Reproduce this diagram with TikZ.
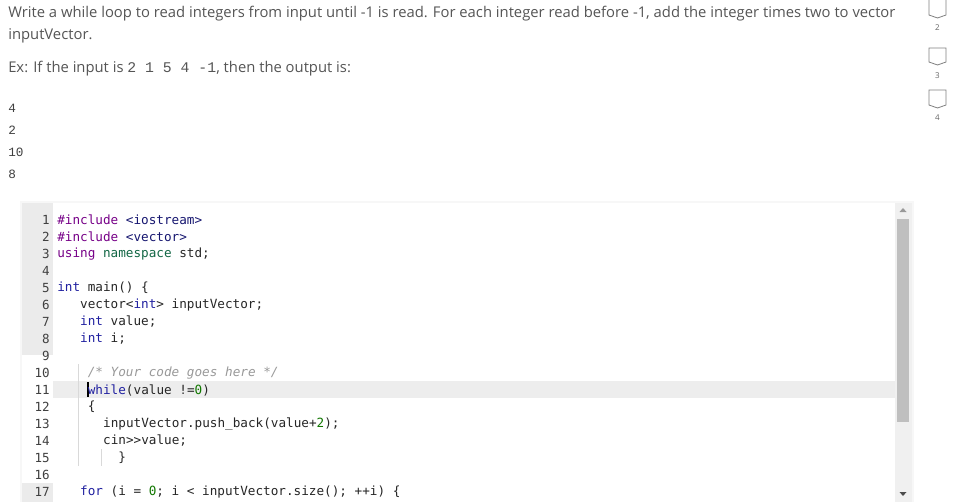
\documentclass[tikz,border=0pt]{standalone}
\usepackage{fontspec}
\setmainfont{Open Sans}
\newfontfamily\codefont{DejaVu Sans Mono}[Scale=1]
\newfontfamily\outfont{Liberation Mono}
\definecolor{txt}{HTML}{555555}
\definecolor{kw}{HTML}{2020A0}
\definecolor{pp}{HTML}{770088}
\definecolor{gn}{HTML}{117700}
\definecolor{cm}{HTML}{999999}
\definecolor{nm}{HTML}{116644}
\definecolor{gut}{HTML}{EBEBEB}
\newcommand\kwd[1]{\textcolor{kw}{#1}}
\newcommand\ppd[1]{\textcolor{pp}{#1}}
\newcommand\gnd[1]{\textcolor{gn}{#1}}
\begin{document}
\begin{tikzpicture}[x=0.75pt,y=-0.75pt,
  prose/.style={anchor=base west,inner sep=0,text=txt,font=\fontsize{11.1}{12}\selectfont},
  outnum/.style={anchor=west,inner sep=0,text=black!75,font=\outfont\fontsize{9.5}{10}\selectfont},
  lnum/.style={anchor=east,inner sep=0,text=black!75,font=\codefont\fontsize{9.4}{10}\selectfont},
  code/.style={anchor=west,inner sep=0,text=black!85,font=\codefont\fontsize{9.5}{10}\selectfont},
  shield/.style={draw=black!50,line width=0.6pt},
  tag/.style={inner sep=0,text=black!60,font=\fontsize{6}{7}\selectfont}]
\useasboundingbox (0,0) rectangle (962,502);
\fill[white] (0,0) rectangle (962,502);
% prose
\node[prose] (p1) at (8,18) {Write a while loop to read integers from input until -1 is read. For each integer read before -1, add the integer times two to vector};
\node[prose] (p2) at (8,40) {inputVector.};
\node[prose] (p3) at (8,73) {Ex: If the input is {\outfont 2 1 5 4 -1}, then the output is:};
\node[outnum] (o1) at (8,108) {4};
\node[outnum] (o2) at (8,130) {2};
\node[outnum] (o3) at (8,152) {10};
\node[outnum] (o4) at (8,174) {8};
% side shields
\draw[shield] (929,-2) -- (929,15) -- (937.5,18) -- (946,15) -- (946,-2);
\node[tag] (t2) at (937.5,28) {2};
\draw[shield] (929,48) -- (929,62) -- (937.5,65) -- (946,62) -- (946,48) -- cycle;
\node[tag] (t3) at (937.5,76) {3};
\draw[shield] (929,90) -- (929,105) -- (937.5,108) -- (946,105) -- (946,90) -- cycle;
\node[tag] (t4) at (937.5,118) {4};
% editor
\fill[black!3] (20,201) rectangle (914,502);
\fill[white] (22,203) rectangle (912,502);
\fill[gut] (22,203) rectangle (53,355);
\fill[gut] (22,483) rectangle (53,502);
\fill[black!7] (53,381) rectangle (895,398);
% scrollbar
\fill[black!6] (895,203) rectangle (912,502);
\fill[black!25] (897,219) rectangle (909,422);
\fill[black!40] (903,208) -- (899.5,212) -- (906.5,212) -- cycle;
\fill[black!70] (899.5,492) -- (906.5,492) -- (903,496) -- cycle;
% indent guides and cursor
\draw[black!15] (78,364) -- (78,466);
\draw[black!15] (101,449) -- (101,466);
\draw[black,line width=1.3pt] (88,382) -- (88,397);
% line numbers
\foreach \n in {1,...,17}{\node[lnum] (ln\n) at (50,{220+(\n-1)*17}) {\n};}
% code
\def\cx#1{57+#1*7.65}
\node[code] (c1) at ({\cx{0}},220) {\ppd{\#include} \textcolor{kw!70!black}{<iostream>}};
\node[code] (c2) at ({\cx{0}},237) {\ppd{\#include} \textcolor{kw!70!black}{<vector>}};
\node[code] (c3) at ({\cx{0}},254) {\ppd{using} \textcolor{nm}{namespace} std;};
\node[code] (c5) at ({\cx{0}},288) {\kwd{int} main() \{};
\node[code] (c6) at ({\cx{3}},305) {vector<\kwd{int}> inputVector;};
\node[code] (c7) at ({\cx{3}},322) {\kwd{int} value;};
\node[code] (c8) at ({\cx{3}},339) {\kwd{int} i;};
\node[code,text=cm] (c10) at ({\cx{4}},373) {\itshape /* Your code goes here */};
\node[code] (c11) at ({\cx{4}},390) {\kwd{while}(value !=\gnd{0})};
\node[code] (c12) at ({\cx{4}},407) {\{};
\node[code] (c13) at ({\cx{6}},424) {inputVector.push\_back(value+\gnd{2});};
\node[code] (c14) at ({\cx{6}},441) {cin>>value;};
\node[code] (c15) at ({\cx{8}},458) {\}};
\node[code] (c17) at ({\cx{3}},492) {\kwd{for} (i = \gnd{0}; i < inputVector.size(); ++i) \{};
\end{tikzpicture}
\end{document}
